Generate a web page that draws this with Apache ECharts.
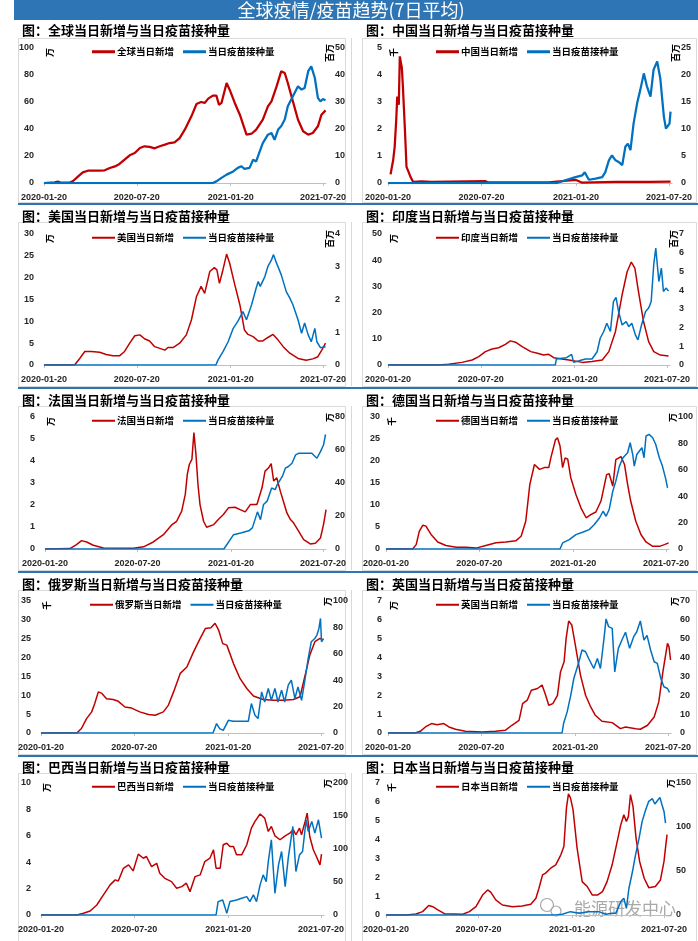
<!DOCTYPE html>
<html>
<head>
<meta charset="utf-8">
<title>全球疫情/疫苗趋势(7日平均)</title>
<script src="https://cdn.jsdelivr.net/npm/echarts@6/dist/echarts.min.js"></script>
<style>
  html, body { margin: 0; padding: 0; background: #fff; }
  #chart { width: 698px; height: 941px; }
</style>
</head>
<body>
<div id="chart"></div>
<script>
// x 轴：距 2020-01-20 的天数
const xTickDays = [0, 182, 366, 547];
const xTickLabels = ['2020-01-20', '2020-07-20', '2021-01-20', '2021-07-20'];
const X_MAX = 553;

// 全球：新增(万) / 疫苗(百万)
const globalCases = [[0,0],[21,0.5],[27,1.0],[34,0.2],[50,0.2],[57,1.5],[67,4.9],[76,7.9],[86,9.1],[109,9.1],[119,9.4],[129,11.1],[139,12.3],[148,14.1],[158,17.3],[168,20.5],[178,22.2],[188,25.9],[197,27.2],[207,26.7],[217,25.7],[227,27.2],[237,28.4],[246,29.6],[256,30.1],[266,33.3],[276,39.5],[289,49.4],[299,58.5],[308,60.0],[315,59.3],[322,62.5],[331,64.7],[338,64.7],[343,58.0],[348,59.3],[358,74.1],[364,69.1],[374,59.3],[384,50.6],[397,35.8],[407,36.5],[416,39.5],[429,46.9],[439,56.8],[446,60.5],[456,71.6],[465,82.7],[472,81.5],[478,74.1],[488,60.5],[498,46.9],[508,38.3],[518,35.8],[527,37.0],[537,42.0],[544,50.6],[552,53.8]];
const globalVaccines = [[0,0],[331,0],[338,0.6],[348,1.9],[358,3.1],[371,4.3],[380,5.6],[387,6.2],[393,5.2],[403,5.6],[410,8.6],[416,8.0],[423,11.7],[429,14.8],[439,17.9],[446,18.5],[452,16.0],[459,19.8],[465,21.0],[472,23.5],[478,28.4],[488,32.1],[498,35.8],[505,34.6],[511,35.2],[518,41.4],[524,43.2],[531,38.9],[537,31.5],[542,30.2],[547,31.1],[552,30.6]];

// 中国：新增(千) / 疫苗(百万)
const chinaCases = [[5,0.32],[10,0.84],[13,1.34],[16,2.33],[18,3.2],[21,2.9],[23,4.69],[25,4.75],[27,4.26],[29,3.57],[33,1.96],[36,0.6],[40,0.41],[44,0.22],[49,0.04],[65,0.06],[85,0.04],[189,0.07],[195,0.02],[313,0.02],[365,0.12],[378,0.01],[443,0.04],[508,0.04],[550,0.05]];
const chinaVaccines = [[0,0],[329,0],[345,0.5],[365,1.1],[378,1.4],[383,2.0],[391,0.6],[404,0.8],[417,1.1],[423,2.0],[430,4.2],[436,5.1],[443,4.2],[449,3.9],[456,3.3],[462,6.7],[467,7.3],[472,6.1],[478,11.0],[485,14.8],[491,17.2],[498,20.3],[504,17.9],[511,16.0],[517,21.0],[524,22.5],[530,19.4],[537,12.3],[541,10.1],[548,11.0],[550,13.2]];

// 美国：新增(万) / 疫苗(百万)
const usCases = [[0,0],[60,0],[70,1.5],[80,3.1],[93,3.1],[109,2.9],[122,2.4],[135,2.1],[148,2.1],[158,3.1],[168,5.0],[178,6.7],[188,6.9],[197,6.0],[207,5.5],[217,4.2],[230,3.7],[237,3.4],[243,4.0],[253,4.0],[266,5.0],[279,6.9],[289,10.3],[299,15.7],[308,18.0],[315,16.4],[325,21.4],[334,22.3],[339,21.8],[344,18.7],[350,21.4],[358,25.4],[364,23.3],[374,18.4],[384,13.8],[393,8.0],[400,7.0],[410,6.5],[420,5.5],[429,5.5],[439,6.3],[449,7.0],[459,5.7],[469,4.2],[482,2.7],[498,1.5],[514,1.1],[527,1.4],[537,1.9],[546,3.7],[552,5.0]];
const usVaccines = [[0,0],[337,0],[341,0.15],[351,0.41],[361,0.71],[371,1.12],[380,1.33],[390,1.63],[397,1.38],[407,1.84],[416,2.35],[420,2.55],[424,2.4],[433,2.7],[439,3.01],[446,3.21],[450,3.37],[456,3.11],[465,2.76],[475,2.24],[482,2.04],[488,1.84],[498,1.38],[505,0.97],[511,1.28],[518,0.92],[524,0.71],[531,1.12],[535,0.71],[542,0.53],[552,0.56]];

// 印度：新增(万) / 疫苗(百万)
const indiaCases = [[0,0],[99,0],[119,0.3],[145,1.0],[165,1.9],[178,3.2],[191,5.1],[204,6.1],[217,6.6],[230,7.9],[240,9.2],[250,8.7],[263,7.0],[280,5.1],[293,4.5],[305,3.8],[315,4.1],[325,2.8],[341,2.3],[358,1.8],[381,1.0],[400,1.3],[420,1.9],[433,5.1],[446,12.8],[459,26.8],[469,35.7],[477,39.3],[484,37.0],[491,28.1],[501,16.6],[511,8.9],[521,5.1],[534,3.8],[550,3.4]];
const indiaVaccines = [[0,0],[328,0],[330,0.32],[341,0.36],[350,0.39],[360,0.57],[364,0.14],[373,0.21],[387,0.32],[400,0.32],[410,0.71],[416,1.43],[423,1.79],[429,2.23],[436,1.79],[442,3.39],[447,3.61],[452,2.86],[459,2.14],[467,2.32],[472,2.05],[478,2.23],[485,1.61],[490,1.34],[497,2.14],[505,2.86],[511,3.04],[516,3.39],[521,5.36],[525,6.25],[531,4.46],[536,5.18],[540,3.93],[545,4.11],[550,3.96]];

// 法国：新增(万) / 疫苗(万)
const franceCases = [[0,0],[49,0.02],[62,0.2],[72,0.38],[82,0.32],[95,0.17],[115,0.05],[174,0.03],[194,0.1],[213,0.32],[233,0.65],[250,1.11],[259,1.26],[269,1.72],[276,2.48],[280,3.39],[284,3.84],[289,4.07],[293,5.29],[297,4.3],[301,2.93],[305,2.02],[312,1.26],[318,0.99],[332,1.11],[341,1.34],[351,1.57],[361,1.87],[374,1.9],[384,1.79],[394,1.69],[404,2.02],[417,2.02],[427,2.78],[433,3.54],[440,3.69],[445,3.88],[450,3.09],[456,3.24],[463,2.63],[469,2.17],[476,1.64],[483,1.34],[489,1.19],[499,0.81],[509,0.43],[522,0.23],[532,0.26],[542,0.5],[548,1.11],[553,1.79]];
const franceVaccines = [[0,0],[352,0],[371,8.7],[385,9.7],[401,11.0],[408,12.8],[418,22.5],[424,17.8],[430,27.0],[437,29.0],[446,37.0],[453,36.0],[457,39.0],[467,44.0],[473,49.0],[479,50.0],[486,52.0],[493,57.0],[499,58.0],[525,58.0],[535,55.0],[542,59.0],[548,63.0],[552,69.4]];

// 德国：新增(千) / 疫苗(万)
const germanyCases = [[0,0],[52,0],[59,1.0],[65,4.0],[72,5.4],[78,5.2],[88,3.3],[101,1.6],[117,0.8],[137,0.4],[156,0.4],[176,0.2],[195,0.8],[215,1.4],[234,1.6],[254,1.9],[264,2.9],[273,6.3],[281,14.7],[290,19.2],[300,18.1],[309,18.5],[318,18.5],[322,20.7],[331,24.8],[335,25.3],[340,23.4],[345,18.5],[350,20.7],[355,20.4],[361,16.2],[371,12.4],[381,9.3],[391,7.1],[400,7.8],[410,8.4],[420,10.9],[431,16.9],[436,17.1],[443,14.3],[449,20.3],[459,21.0],[466,19.2],[472,14.7],[478,10.9],[488,6.3],[498,3.3],[508,1.6],[521,0.6],[534,0.6],[544,1.0],[552,1.4]];
const germanyVaccines = [[0,0],[340,0],[345,4.6],[358,7.1],[371,10.9],[384,12.7],[397,14.7],[407,18.5],[417,23.5],[424,28.6],[430,24.8],[436,29.9],[443,43.8],[449,51.4],[456,62.8],[463,69.1],[472,72.9],[477,80.5],[482,71.6],[485,62.8],[490,71.6],[495,74.2],[500,76.7],[504,69.1],[508,85.6],[514,86.8],[521,84.3],[527,79.2],[534,69.1],[540,62.8],[546,53.9],[550,46.3]];

// 俄罗斯：新增(千) / 疫苗(万)
const russiaCases = [[0,0],[70,0],[79,1.2],[89,3.8],[99,5.6],[105,7.8],[112,10.9],[119,10.5],[128,9.1],[141,8.9],[151,8.4],[164,6.9],[177,6.6],[193,5.6],[210,4.9],[223,4.7],[239,5.6],[249,7.4],[259,10.9],[272,15.8],[285,17.5],[298,21.5],[311,25.1],[321,27.7],[332,27.9],[340,29.1],[347,27.3],[355,23.7],[363,23.3],[376,18.4],[389,14.4],[402,11.8],[415,9.8],[434,8.9],[454,8.7],[473,8.7],[493,8.9],[506,9.6],[516,15.3],[525,20.6],[535,24.2],[545,25.1],[551,24.6]];
const russiaVaccines = [[0,0],[336,0],[343,7.1],[349,3.3],[356,2.0],[366,9.6],[375,8.9],[405,8.9],[411,22.3],[418,13.4],[424,10.9],[431,31.1],[437,23.5],[444,33.7],[450,24.8],[457,33.7],[463,23.5],[470,32.4],[476,23.5],[483,36.2],[489,40.0],[496,26.1],[502,34.9],[509,24.8],[515,38.7],[522,56.5],[528,69.1],[535,71.6],[539,74.2],[543,79.2],[546,86.8],[548,69.1],[552,71.6]];

// 英国：新增(万) / 疫苗(万)
const ukCases = [[0,0],[53,0],[63,0.09],[73,0.32],[85,0.5],[96,0.44],[109,0.5],[119,0.32],[132,0.2],[151,0.09],[184,0.05],[210,0.09],[229,0.14],[242,0.41],[256,0.67],[263,1.56],[272,1.74],[280,2.27],[292,2.36],[301,2.54],[308,2.0],[314,1.47],[322,1.56],[331,2.0],[337,3.24],[344,3.78],[348,5.02],[353,5.94],[359,5.73],[366,4.66],[376,3.07],[386,2.0],[396,1.38],[405,0.94],[418,0.62],[438,0.55],[454,0.23],[464,0.32],[484,0.23],[493,0.2],[507,0.41],[520,0.85],[529,1.65],[537,3.24],[546,4.75],[549,4.57],[552,3.87]];
const ukVaccines = [[0,0],[340,0],[343,5.0],[350,11.2],[357,20.0],[363,28.9],[373,37.8],[379,44.0],[386,43.1],[392,39.5],[402,34.2],[409,39.5],[415,34.2],[422,50.2],[426,60.5],[431,56.4],[438,55.5],[443,32.4],[450,44.9],[457,49.3],[464,53.4],[472,44.9],[480,51.1],[486,53.7],[493,59.4],[500,49.3],[506,51.8],[513,44.0],[520,37.8],[526,36.9],[533,28.9],[539,24.5],[546,23.6],[550,21.5]];

// 巴西：新增(万) / 疫苗(万)
const brazilCases = [[0,0],[70,0],[83,0.13],[96,0.3],[109,0.76],[122,1.52],[135,2.28],[145,2.66],[151,2.58],[161,3.54],[171,3.8],[180,3.34],[190,4.61],[200,4.3],[206,4.43],[216,3.67],[226,3.92],[232,3.16],[242,2.78],[255,2.53],[265,2.03],[275,2.15],[284,2.41],[291,1.77],[301,2.91],[311,3.04],[320,4.05],[330,4.3],[337,4.94],[342,3.54],[350,3.54],[356,5.32],[363,5.44],[369,5.19],[376,5.19],[382,4.56],[392,4.56],[402,5.32],[411,6.58],[418,7.09],[428,7.65],[437,7.34],[444,6.33],[450,6.71],[457,6.0],[467,5.7],[477,6.0],[486,6.2],[493,6.46],[498,6.08],[505,6.58],[509,6.08],[516,7.09],[520,7.72],[525,5.95],[532,4.94],[538,4.43],[545,3.8],[548,4.61]];
const brazilVaccines = [[0,0],[342,0],[346,20.3],[355,22.8],[363,2.5],[369,20.3],[382,22.8],[392,25.3],[402,27.8],[408,20.3],[415,30.4],[421,20.3],[428,45.6],[434,60.8],[440,50.6],[444,81.0],[450,113.9],[457,32.9],[464,75.9],[470,96.2],[477,43.0],[483,86.1],[492,134.2],[498,65.8],[505,91.1],[511,96.2],[518,144.3],[522,126.6],[529,141.8],[535,124.1],[542,144.3],[548,116.5]];

// 日本：新增(千) / 疫苗(万)
const japanCases = [[0,0],[40,0],[59,0.05],[72,0.18],[84,0.5],[92,0.44],[102,0.27],[115,0.07],[151,0.04],[164,0.18],[177,0.44],[190,1.06],[200,1.33],[206,1.21],[216,0.8],[229,0.53],[249,0.44],[268,0.48],[285,0.57],[295,0.89],[301,1.42],[308,2.13],[314,2.22],[324,2.48],[334,2.66],[344,3.19],[350,3.63],[355,5.67],[359,6.42],[363,6.21],[368,5.59],[376,3.55],[386,1.77],[396,1.51],[406,1.06],[416,1.06],[426,1.24],[435,1.77],[445,2.66],[455,3.9],[462,4.79],[468,5.32],[473,4.96],[477,5.23],[481,6.38],[486,5.76],[492,4.08],[499,2.84],[508,1.95],[517,1.45],[530,1.51],[540,1.86],[547,2.84],[551,3.81],[553,4.26]];
const japanVaccines = [[0,0],[334,0],[347,0.8],[363,3.8],[380,1.9],[399,3.8],[419,3.8],[432,0.8],[445,1.9],[452,1.9],[462,15.2],[468,19.0],[473,7.6],[478,30.4],[485,49.4],[491,68.4],[498,87.4],[504,106.4],[511,119.7],[517,129.2],[524,132.2],[529,126.1],[534,129.9],[539,133.7],[543,125.3],[547,117.7],[550,104.4]];

const VAX = '当日疫苗接种量';
const panels = [
  { title: '图：全球当日新增与当日疫苗接种量', caseName: '全球当日新增', cases: globalCases, vaccines: globalVaccines, leftMax: 100, leftStep: 20, rightMax: 50, rightStep: 10, leftUnit: '万', rightUnit: '百万' },
  { title: '图：中国当日新增与当日疫苗接种量', caseName: '中国当日新增', cases: chinaCases, vaccines: chinaVaccines, leftMax: 5, leftStep: 1, rightMax: 25, rightStep: 5, leftUnit: '千', rightUnit: '百万' },
  { title: '图：美国当日新增与当日疫苗接种量', caseName: '美国当日新增', cases: usCases, vaccines: usVaccines, leftMax: 30, leftStep: 5, rightMax: 4, rightStep: 1, leftUnit: '万', rightUnit: '百万' },
  { title: '图：印度当日新增与当日疫苗接种量', caseName: '印度当日新增', cases: indiaCases, vaccines: indiaVaccines, leftMax: 50, leftStep: 10, rightMax: 7, rightStep: 1, leftUnit: '万', rightUnit: '百万' },
  { title: '图：法国当日新增与当日疫苗接种量', caseName: '法国当日新增', cases: franceCases, vaccines: franceVaccines, leftMax: 6, leftStep: 1, rightMax: 80, rightStep: 20, leftUnit: '万', rightUnit: '万' },
  { title: '图：德国当日新增与当日疫苗接种量', caseName: '德国当日新增', cases: germanyCases, vaccines: germanyVaccines, leftMax: 30, leftStep: 5, rightMax: 100, rightStep: 20, leftUnit: '千', rightUnit: '万' },
  { title: '图：俄罗斯当日新增与当日疫苗接种量', caseName: '俄罗斯当日新增', cases: russiaCases, vaccines: russiaVaccines, leftMax: 35, leftStep: 5, rightMax: 100, rightStep: 20, leftUnit: '千', rightUnit: '万' },
  { title: '图：英国当日新增与当日疫苗接种量', caseName: '英国当日新增', cases: ukCases, vaccines: ukVaccines, leftMax: 7, leftStep: 1, rightMax: 70, rightStep: 10, leftUnit: '万', rightUnit: '万' },
  { title: '图：巴西当日新增与当日疫苗接种量', caseName: '巴西当日新增', cases: brazilCases, vaccines: brazilVaccines, leftMax: 10, leftStep: 2, rightMax: 200, rightStep: 50, leftUnit: '万', rightUnit: '万' },
  { title: '图：日本当日新增与当日疫苗接种量', caseName: '日本当日新增', cases: japanCases, vaccines: japanVaccines, leftMax: 7, leftStep: 1, rightMax: 150, rightStep: 50, leftUnit: '千', rightUnit: '万' }
];

// 版面
const RED = '#C00000';
const BLUE = '#0070C0';
const BAR = '#2E75B6';
const CJK = '"Noto Sans CJK SC", "Noto Sans", sans-serif';
const NUM = '"Liberation Sans", Arial, sans-serif';
const rowTop = [48, 234, 417, 601, 783];
const rowZero = [183, 365, 549, 733, 915];
const boxTop = [38, 222, 406, 590, 773];
const boxBottom = [202, 386, 570, 754, 941];
const headerY = [30, 216, 400, 584, 767];
const sepY = [204, 388, 572, 756];
const colLeft = [[44, 44, 45, 41, 41], [388, 388, 386, 388, 386]];
const colEnd = [[323, 323, 323, 321, 321], [669, 667, 666, 668, 664]];

const labelFont = { fontFamily: NUM, fontSize: 9, fontWeight: 'bold', color: '#262626' };

const grid = [], xAxis = [], yAxis = [], series = [], legend = [], graphic = [];

// 标题栏
graphic.push({ type: 'rect', shape: { x: 14, y: 0, width: 684, height: 20 }, style: { fill: BAR } });
graphic.push({ type: 'text', x: 351, y: 10, style: { text: '全球疫情/疫苗趋势(7日平均)', fill: '#fff', font: '18px ' + CJK, textAlign: 'center', textVerticalAlign: 'middle' } });

sepY.forEach(y => {
  graphic.push({ type: 'rect', shape: { x: 18, y: y - 1, width: 680, height: 2 }, style: { fill: BAR } });
});

panels.forEach((p, k) => {
  const row = Math.floor(k / 2), col = k % 2;
  const left = colLeft[col][row];
  const width = (colEnd[col][row] - left) * X_MAX / 547;
  const top = rowTop[row];
  const height = rowZero[row] - top;
  const lw = k < 2 ? 2.25 : 1.5;

  // 外框
  const bx = col ? 362 : 18, bw = col ? 334 : 327;
  graphic.push({ type: 'rect', z: -1, shape: { x: bx + 0.5, y: boxTop[row] + 0.5, width: bw, height: boxBottom[row] - boxTop[row] }, style: { fill: '#fff', stroke: '#D9D9D9', lineWidth: 1 } });
  if (col) {
    graphic.push({ type: 'line', shape: { x1: 351.5, y1: boxTop[row], x2: 351.5, y2: boxBottom[row] }, style: { stroke: '#D9D9D9', lineWidth: 1 } });
  }
  // 小标题
  graphic.push({ type: 'text', x: col ? 366 : 22, y: headerY[row], style: { text: p.title, fill: '#000', font: 'bold 13px ' + CJK, textVerticalAlign: 'middle' } });
  // 单位
  graphic.push({ type: 'text', x: left + 1, y: top, rotation: Math.PI / 2, style: { text: p.leftUnit, fill: '#000', font: 'bold 9px ' + CJK, textAlign: 'right', textVerticalAlign: 'top' } });
  graphic.push({ type: 'text', x: left + width - 1, y: top - 4, rotation: Math.PI / 2, style: { text: p.rightUnit, fill: '#000', font: 'bold 9px ' + CJK, textAlign: 'right', textVerticalAlign: 'top' } });

  grid.push({ left, top, width, height });
  xAxis.push({
    type: 'value', gridIndex: k, min: 0, max: X_MAX,
    axisLine: { lineStyle: { color: '#BFBFBF', width: 1 } },
    axisTick: { show: true, length: 3, customValues: xTickDays, lineStyle: { color: '#BFBFBF' } },
    axisLabel: { customValues: xTickDays, margin: 10, formatter: v => xTickLabels[xTickDays.indexOf(v)] || '', ...labelFont },
    splitLine: { show: false }
  });
  yAxis.push({
    type: 'value', gridIndex: k, position: 'left', min: 0, max: p.leftMax, interval: p.leftStep,
    axisLine: { show: false }, axisTick: { show: false }, splitLine: { show: false },
    axisLabel: { margin: col ? 6 : 10, ...labelFont }
  });
  yAxis.push({
    type: 'value', gridIndex: k, position: 'right', min: 0, max: p.rightMax, interval: p.rightStep,
    axisLine: { show: false }, axisTick: { show: false }, splitLine: { show: false },
    axisLabel: { margin: 9, ...labelFont }
  });
  series.push({
    name: p.caseName, type: 'line', xAxisIndex: k, yAxisIndex: 2 * k, data: p.cases,
    showSymbol: false, symbol: 'none', color: RED, lineStyle: { color: RED, width: lw }
  });
  series.push({
    name: VAX, type: 'line', xAxisIndex: k, yAxisIndex: 2 * k + 1, data: p.vaccines,
    showSymbol: false, symbol: 'none', color: BLUE, lineStyle: { color: BLUE, width: lw }
  });
  legend.push({
    left: col ? 436 : (k === 6 ? 90 : 92), top: top - 1, padding: 0,
    data: [p.caseName, VAX], icon: 'rect', itemWidth: 23, itemHeight: k < 2 ? 3 : 2, itemGap: 9,
    selectedMode: false,
    textStyle: { fontFamily: CJK, fontSize: 9.5, fontWeight: 'bold', color: '#000', padding: [0, 0, 0, -3] }
  });
});

// 水印
graphic.push({ type: 'circle', shape: { cx: 547, cy: 905, r: 6.5 }, style: { fill: 'rgba(255,255,255,0.6)', stroke: '#A6A6A6', lineWidth: 1.2 } });
graphic.push({ type: 'circle', shape: { cx: 556, cy: 911, r: 5 }, style: { fill: 'rgba(255,255,255,0.6)', stroke: '#A6A6A6', lineWidth: 1.2 } });
graphic.push({ type: 'text', x: 574, y: 909, style: { text: '能源研发中心', fill: 'rgba(140,140,140,0.75)', font: '17px ' + CJK, textVerticalAlign: 'middle' } });

const chart = echarts.init(document.getElementById('chart'), null, { renderer: 'canvas' });
chart.setOption({
  animation: false,
  backgroundColor: '#fff',
  grid, xAxis, yAxis, series, legend,
  graphic: { elements: graphic }
});
</script>
</body>
</html>
